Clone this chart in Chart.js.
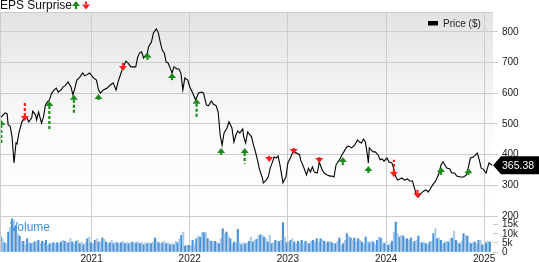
<!DOCTYPE html>
<html>
<head>
<meta charset="utf-8">
<script src="https://cdn.jsdelivr.net/npm/chart.js@4"></script>
<style>
html, body { margin: 0; padding: 0; background: #fff; }
#wrap { width: 539px; height: 262px; }
</style>
</head>
<body>
<div id="wrap"><canvas id="grafico" width="539" height="262"></canvas></div>
<script>
// Price ($), weekly-ish points (x in decimal years)
const priceDates = [
  2020.07, 2020.12, 2020.14, 2020.15, 2020.17, 2020.19, 2020.21, 2020.23, 2020.24, 2020.26,
  2020.29, 2020.31, 2020.34, 2020.36, 2020.39, 2020.40, 2020.43, 2020.44, 2020.46, 2020.49,
  2020.51, 2020.53, 2020.55, 2020.57, 2020.59, 2020.61, 2020.64, 2020.66, 2020.69, 2020.71,
  2020.73, 2020.76, 2020.79, 2020.81, 2020.83, 2020.85, 2020.88, 2020.91, 2020.93, 2020.95,
  2020.98, 2021.02, 2021.05, 2021.07, 2021.09, 2021.12, 2021.16, 2021.19, 2021.22, 2021.25,
  2021.27, 2021.30, 2021.32, 2021.35, 2021.37, 2021.40, 2021.42, 2021.45, 2021.47, 2021.49,
  2021.51, 2021.53, 2021.57, 2021.58, 2021.61, 2021.63, 2021.66, 2021.68, 2021.70, 2021.72,
  2021.74, 2021.76, 2021.78, 2021.80, 2021.82, 2021.84, 2021.87, 2021.89, 2021.91, 2021.93,
  2021.95, 2021.98, 2022.00, 2022.03, 2022.06, 2022.09, 2022.12, 2022.14, 2022.17, 2022.19,
  2022.22, 2022.24, 2022.27, 2022.29, 2022.31, 2022.33, 2022.35, 2022.38, 2022.40, 2022.43,
  2022.45, 2022.47, 2022.49, 2022.51, 2022.54, 2022.55, 2022.57, 2022.59, 2022.63, 2022.65,
  2022.67, 2022.69, 2022.71, 2022.74, 2022.75, 2022.78, 2022.80, 2022.82, 2022.84, 2022.86,
  2022.88, 2022.90, 2022.92, 2022.94, 2022.95, 2022.98, 2023.00, 2023.03, 2023.05, 2023.09,
  2023.12, 2023.13, 2023.16, 2023.19, 2023.21, 2023.23, 2023.25, 2023.27, 2023.30, 2023.32,
  2023.35, 2023.37, 2023.40, 2023.43, 2023.45, 2023.47, 2023.49, 2023.51, 2023.53, 2023.55,
  2023.57, 2023.60, 2023.62, 2023.65, 2023.68, 2023.71, 2023.73, 2023.75, 2023.77, 2023.79,
  2023.81, 2023.82, 2023.83, 2023.85, 2023.87, 2023.89, 2023.92, 2023.94, 2023.96, 2023.98,
  2024.01, 2024.03, 2024.06, 2024.09, 2024.10, 2024.12, 2024.16, 2024.19, 2024.22, 2024.24,
  2024.27, 2024.29, 2024.31, 2024.33, 2024.36, 2024.38, 2024.41, 2024.43, 2024.45, 2024.48,
  2024.50, 2024.52, 2024.54, 2024.56, 2024.58, 2024.60, 2024.62, 2024.65, 2024.67, 2024.70,
  2024.72, 2024.76, 2024.79, 2024.82, 2024.84, 2024.86, 2024.89, 2024.92, 2024.93, 2024.95,
  2024.97, 2024.99, 2025.02, 2025.03, 2025.05, 2025.08
];
const priceValues = [
  520, 536, 533, 497, 493, 458, 373, 438, 435, 471,
  507, 516, 520, 507, 520, 542, 529, 513, 539, 503,
  523, 562, 572, 578, 598, 608, 617, 604, 611, 621,
  624, 637, 621, 595, 617, 643, 653, 666, 657, 660,
  666, 650, 643, 612, 601, 611, 617, 627, 634, 611,
  637, 666, 683, 705, 699, 686, 686, 686, 718, 732,
  735, 715, 732, 751, 767, 797, 810, 797, 767, 741,
  732, 702, 699, 683, 666, 686, 679, 679, 666, 611,
  650, 643, 621, 601, 578, 601, 604, 601, 562, 559,
  575, 565, 559, 539, 464, 431, 471, 487, 507, 487,
  441, 464, 477, 471, 484, 458, 438, 474, 458, 431,
  409, 383, 353, 324, 308, 317, 327, 356, 373, 392,
  389, 396, 366, 327, 308, 327, 373, 392, 409, 405,
  399, 383, 360, 334, 356, 343, 360, 343, 340, 376,
  350, 340, 334, 330, 330, 327, 366, 376, 386, 399,
  409, 425, 428, 422, 431, 448, 441, 438, 451, 441,
  399, 373, 422, 415, 409, 409, 399, 383, 386, 379,
  389, 376, 373, 343, 327, 317, 324, 317, 321, 314,
  314, 291, 268, 262, 275, 281, 285, 278, 288, 304,
  311, 324, 340, 366, 376, 366, 356, 353, 340, 340,
  330, 327, 327, 334, 360, 389, 392, 402, 405, 383,
  356, 353, 340, 353, 373, 365.38
];

// Weekly volume (thousands)
const volStart = 2020.075;
const weekStep = 1 / 52.18;
const volume = [
  8.2, 7.0, 5.1, 4.6, 11, 13.7, 18.3, 17.4, 14.3, 10,
  8.8, 5.9, 5.9, 4.0, 7.3, 5.1, 4.6, 5.1, 5.5, 5.9,
  6.4, 4.6, 5.9, 5.1, 6.4, 3.7, 4.6, 4.6, 5.1, 4.6,
  5.1, 4.6, 5.5, 6.4, 5.9, 5.1, 5.1, 7.3, 5.5, 4.6,
  5.9, 6.4, 4.6, 5.5, 4.0, 5.1, 7.3, 8.2, 5.1, 4.6,
  6.4, 7.3, 5.5, 5.9, 7.7, 7.0, 5.5, 4.6, 5.1, 6.4,
  4.6, 5.5, 5.1, 4.6, 5.1, 5.9, 4.6, 5.1, 4.6, 5.1,
  5.5, 4.6, 5.1, 5.5, 4.6, 5.1, 4.0, 5.1, 4.6, 5.1,
  4.6, 5.5, 7.7, 5.9, 5.1, 4.6, 5.1, 5.9, 4.6, 5.1,
  4.0, 4.6, 4.0, 5.9, 5.1, 7.3, 9.2, 11, 3.3, 3.7,
  3.7, 3.3, 6.4, 4.6, 7.3, 8.8, 8.2, 11, 10.6, 10.6,
  7.3, 6.4, 5.9, 5.5, 5.9, 5.1, 4.6, 7.3, 12.8, 10.1,
  11, 8.8, 7.3, 4.6, 5.5, 5.1, 12.5, 5.1, 4.0, 5.1,
  4.6, 5.1, 5.9, 8.2, 5.5, 6.4, 7.0, 8.8, 9.5, 9.2,
  8.2, 7.3, 5.5, 9.2, 4.6, 5.1, 6.4, 5.5, 5.9, 6.4,
  16.1, 8.2, 5.1, 5.5, 6.4, 7.3, 5.5, 4.6, 5.9, 5.1,
  6.4, 4.6, 5.9, 5.1, 4.6, 5.9, 6.4, 5.5, 7.3, 5.1,
  7.3, 6.4, 5.9, 5.1, 5.5, 5.9, 5.1, 4.6,
  4.6, 5.9, 7.7, 3.7, 4.6, 6.4, 10.1, 8.8, 7.7, 6.4,
  7.7, 5.9, 7.3, 6.4, 5.5, 4.6, 8.2, 5.9, 5.1, 5.9,
  5.5, 4.0, 6.4, 8.2, 7.7, 5.1, 4.6, 5.5, 3.7, 4.6,
  5.9, 11, 16.5, 10.1, 8.2, 9.2, 8.8, 7.3, 7.3, 6.4,
  7.7, 5.5, 5.9, 6.4, 8.8, 5.5, 5.1, 5.1, 4.6, 4.0,
  5.5, 5.9, 10.1, 12.8, 7.3, 7.7, 6.4, 4.6, 5.1, 5.9,
  5.5, 7.3, 7.7, 11.4, 6.4, 5.1, 4.6, 5.9, 10.1, 9.2,
  8.8, 5.5, 4.6, 5.1, 5.5, 4.6, 6.4, 6.4, 4.0, 3.7,
  5.1, 5.9, 5.5
];

// EPS surprise arrows: date, tip price, tail price, beat (true) / miss (false)
const epsDates = [2020.08, 2020.32, 2020.57, 2020.82, 2021.07, 2021.32, 2021.57, 2021.82, 2022.07, 2022.32,
                  2022.56, 2022.81, 2023.06, 2023.32, 2023.56, 2023.82, 2024.08, 2024.32, 2024.56, 2024.84];
const epsTip   = [513, 510, 575, 595, 598, 673, 732, 666, 582, 422, 422, 376, 402, 373, 392, 363, 327, 259, 360, 356];
const epsTail  = [438, 572, 484, 536, 578, 699, 709, 643, 523, 399, 370, 396, 422, 392, 366, 340, 383, 285, 334, 334];
const epsBeat  = [true, false, true, true, true, false, true, true, true, true,
                  true, false, false, false, true, true, false, false, true, true];

// tick labels
const yearTicks = [2021, 2022, 2023, 2024, 2025];
const priceTicks = [200, 300, 400, 500, 600, 700, 800];
const volTicks = [0, 5, 10, 15];

const fonte = '"Liberation Sans", Arial, sans-serif';
const verde = '#1b8a1b';
const vermelho = '#ff1e1e';

function desenharSeta(ctx, x, yPonta, yCauda, cima, cor) {
    const h = 5, w = 4;
    ctx.fillStyle = cor;
    ctx.strokeStyle = cor;
    ctx.beginPath();
    if (cima) {
        ctx.moveTo(x, yPonta); ctx.lineTo(x - w, yPonta + h); ctx.lineTo(x + w, yPonta + h);
    } else {
        ctx.moveTo(x, yPonta); ctx.lineTo(x - w, yPonta - h); ctx.lineTo(x + w, yPonta - h);
    }
    ctx.closePath();
    ctx.fill();
    const base = cima ? yPonta + h : yPonta - h;
    if (Math.abs(yCauda - base) > 0.5) {
        ctx.lineWidth = 2.2;
        ctx.setLineDash([3, 2]);
        ctx.beginPath();
        ctx.moveTo(x, base);
        ctx.lineTo(x, yCauda);
        ctx.stroke();
        ctx.setLineDash([]);
    }
}

const fundo = {
    id: 'fundo',
    beforeDraw(chart) {
        const { ctx, chartArea: a, scales: { y } } = chart;
        ctx.save();
        ctx.fillStyle = '#fff';
        ctx.fillRect(0, 0, chart.width, chart.height);
        const g = ctx.createLinearGradient(0, a.top, 0, y.bottom);
        g.addColorStop(0, '#e3e3e3');
        g.addColorStop(0.55, '#fafafa');
        g.addColorStop(1, '#ffffff');
        ctx.fillStyle = g;
        ctx.fillRect(a.left, a.top, a.right - a.left, y.bottom - a.top);
        ctx.restore();
    }
};

const marcas = {
    id: 'marcas',
    afterDatasetsDraw(chart) {
        const { ctx, scales: { x, y } } = chart;
        ctx.save();
        epsDates.forEach((d, i) => {
            desenharSeta(ctx, x.getPixelForValue(d), y.getPixelForValue(epsTip[i]),
                y.getPixelForValue(epsTail[i]), epsBeat[i], epsBeat[i] ? verde : vermelho);
        });
        ctx.restore();
    },
    afterDraw(chart) {
        const { ctx, chartArea: a, scales: { y } } = chart;
        ctx.save();
        // borda
        ctx.strokeStyle = '#cccccc';
        ctx.lineWidth = 1;
        ctx.beginPath();
        ctx.moveTo(a.left + 0.5, a.bottom);
        ctx.lineTo(a.left + 0.5, a.top + 0.5);
        ctx.lineTo(a.right, a.top + 0.5);
        ctx.stroke();

        // titulo
        ctx.font = '12px ' + fonte;
        ctx.fillStyle = '#111';
        ctx.textBaseline = 'middle';
        ctx.textAlign = 'left';
        ctx.fillText('EPS Surprise', 0, 5.5);
        const tw = ctx.measureText('EPS Surprise').width;
        desenharSeta(ctx, tw + 4, 1, 9.5, true, verde);
        desenharSeta(ctx, tw + 14, 9.5, 1, false, vermelho);

        // legenda
        ctx.fillStyle = '#000';
        ctx.fillRect(428, 21, 10, 4.5);
        ctx.font = '10px ' + fonte;
        ctx.fillStyle = '#222';
        ctx.fillText('Price ($)', 443, 24);

        // volume
        ctx.font = '12px ' + fonte;
        ctx.fillStyle = '#3d8fd6';
        ctx.fillText('Volume', 10, 227.5);

        // ultimo preco
        const ultimo = priceValues[priceValues.length - 1];
        const yp = y.getPixelForValue(ultimo);
        const xl = a.right;
        ctx.fillStyle = '#000';
        ctx.beginPath();
        ctx.moveTo(xl, yp);
        ctx.lineTo(xl + 8, yp - 9);
        ctx.lineTo(chart.width, yp - 9);
        ctx.lineTo(chart.width, yp + 9);
        ctx.lineTo(xl + 8, yp + 9);
        ctx.closePath();
        ctx.fill();
        ctx.font = '10.5px ' + fonte;
        ctx.fillStyle = '#fff';
        ctx.fillText(ultimo.toFixed(2), xl + 9, yp + 0.5);
        ctx.restore();
    }
};

const ctx = document.getElementById('grafico').getContext('2d');

new Chart(ctx, {
    data: {
        datasets: [
            {
                type: 'line',
                label: 'Price ($)',
                data: priceDates.map((d, i) => ({ x: d, y: priceValues[i] })),
                borderColor: '#000',
                borderWidth: 1.1,
                pointRadius: 0,
                tension: 0,
                yAxisID: 'y',
                order: 0
            },
            {
                type: 'bar',
                label: 'Volume',
                data: volume.map((v, i) => ({ x: volStart + i * weekStep, y: v })),
                backgroundColor: volume.map((v, i) => i % 2 ? '#a7caed' : '#4a92d8'),
                barThickness: 1.5,
                yAxisID: 'yVol',
                order: 1
            }
        ]
    },
    options: {
        responsive: false,
        animation: false,
        devicePixelRatio: 1,
        layout: { padding: { top: 12, left: 0, right: 0, bottom: 0 } },
        plugins: { legend: { display: false }, tooltip: { enabled: false } },
        scales: {
            x: {
                type: 'linear',
                offset: false,
                min: 2020.067,
                max: 2025.09,
                grid: { color: '#cccccc', drawTicks: false, offset: false },
                border: { display: false },
                afterBuildTicks: s => { s.ticks = yearTicks.map(v => ({ value: v })); },
                afterFit: s => { s.height = 10; },
                ticks: {
                    callback: v => String(v),
                    font: { family: fonte, size: 10 },
                    color: '#222',
                    padding: 1,
                    autoSkip: false,
                    maxRotation: 0
                }
            },
            y: {
                position: 'right',
                stack: 'painel',
                stackWeight: 5.667,
                min: 200,
                max: 865,
                grid: { color: '#cccccc', tickLength: 5 },
                border: { display: false },
                afterBuildTicks: s => { s.ticks = priceTicks.map(v => ({ value: v })); },
                afterFit: s => { s.width = 46; },
                ticks: {
                    font: { family: fonte, size: 10 },
                    color: '#222',
                    padding: 4,
                    autoSkip: false
                }
            },
            yVol: {
                position: 'right',
                stack: 'painel',
                stackWeight: 1,
                min: 0,
                max: 19.8,
                grid: { color: '#cccccc', tickLength: 5, drawOnChartArea: false },
                border: { display: false },
                afterBuildTicks: s => { s.ticks = volTicks.map(v => ({ value: v })); },
                afterFit: s => { s.width = 46; },
                ticks: {
                    callback: v => v === 0 ? '0' : v + 'k',
                    font: { family: fonte, size: 10 },
                    color: '#222',
                    padding: 4,
                    autoSkip: false
                }
            }
        }
    },
    plugins: [fundo, marcas]
});
</script>
</body>
</html>
